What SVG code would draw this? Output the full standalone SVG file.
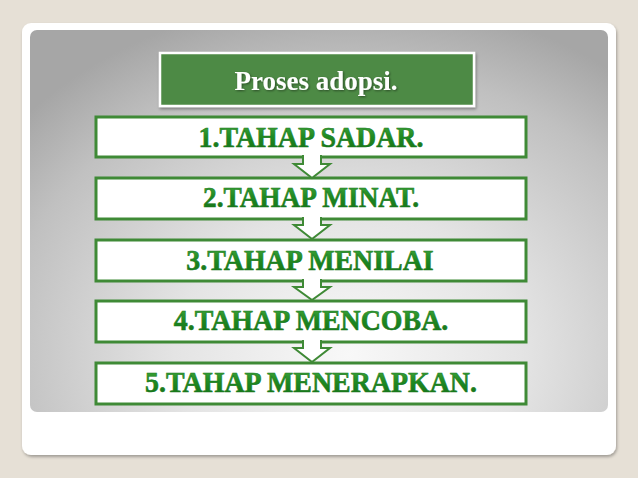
<svg xmlns="http://www.w3.org/2000/svg" width="638" height="478" viewBox="0 0 638 478">
<defs>
<radialGradient id="panelG" cx="0.55" cy="0.85" r="0.75" gradientTransform="translate(0.55 0.85) scale(1 1.25) translate(-0.55 -0.85)">
<stop offset="0" stop-color="#f8f8f8"/>
<stop offset="0.4" stop-color="#e4e4e4"/>
<stop offset="0.8" stop-color="#c0c0c0"/>
<stop offset="1" stop-color="#a6a6a6"/>
</radialGradient>
<linearGradient id="txtG" x1="0" y1="0" x2="0" y2="1">
<stop offset="0" stop-color="#4cae44"/>
<stop offset="0.5" stop-color="#1f8a22"/>
<stop offset="1" stop-color="#136d16"/>
</linearGradient>
<filter id="cardSh" x="-5%" y="-5%" width="110%" height="110%">
<feDropShadow dx="1" dy="2" stdDeviation="1.5" flood-color="#000" flood-opacity="0.3"/>
</filter>
<filter id="boxSh" x="-5%" y="-10%" width="110%" height="130%">
<feDropShadow dx="1" dy="2" stdDeviation="1.5" flood-color="#000" flood-opacity="0.35"/>
</filter>
<filter id="tSh" x="-5%" y="-20%" width="110%" height="150%">
<feDropShadow dx="1" dy="1" stdDeviation="0.8" flood-color="#000" flood-opacity="0.45"/>
</filter>
</defs>
<style>
.box{fill:#ffffff;stroke:#3f8a36;stroke-width:3}
.arr{fill:#ffffff;stroke:#3f8a36;stroke-width:2;stroke-linejoin:miter}
.lbl{font-family:'Liberation Serif','DejaVu Serif',serif;font-weight:bold;font-size:30px;fill:url(#txtG);stroke:#1a7a1d;stroke-width:0.6;text-anchor:middle}
.ttl{font-family:'Liberation Serif','DejaVu Serif',serif;font-weight:bold;font-size:27px;fill:#ffffff;text-anchor:middle}
</style>
<rect x="0" y="0" width="638" height="478" fill="#e6e0d6"/>
<rect x="22" y="23" width="594" height="432" rx="9" fill="#ffffff" filter="url(#cardSh)"/>
<rect x="30" y="30" width="578" height="382" rx="7" fill="url(#panelG)"/>

<g id="title">
<rect x="160" y="53" width="314" height="53" fill="#4e8a44" stroke="#ffffff" stroke-width="2.5" filter="url(#boxSh)"/>
<text class="ttl" x="316" y="90" filter="url(#tSh)">Proses adopsi.</text>
</g>

<g id="step1">
<rect class="box" x="96" y="117" width="430" height="40"/>
<text class="lbl" transform="translate(311 147) scale(0.93 1)">1.TAHAP SADAR.</text>
</g>
<g id="step2">
<rect class="box" x="96" y="178" width="430" height="41"/>
<text class="lbl" transform="translate(311 207) scale(0.91 1)">2.TAHAP MINAT.</text>
</g>
<g id="step3">
<rect class="box" x="96" y="240" width="430" height="41"/>
<text class="lbl" transform="translate(310 270) scale(0.93 1)">3.TAHAP MENILAI</text>
</g>
<g id="step4">
<rect class="box" x="96" y="301" width="430" height="41"/>
<text class="lbl" transform="translate(311 330) scale(0.93 1)">4.TAHAP MENCOBA.</text>
</g>
<g id="step5">
<rect class="box" x="96" y="363" width="430" height="41"/>
<text class="lbl" transform="translate(311 392) scale(0.93 1)">5.TAHAP MENERAPKAN.</text>
</g>

<g id="connectors">
<path class="arr" d="M303,155 V164 H294 L312,178 L330,164 H321 V155"/>
<path class="arr" d="M303,217 V225 H294 L312,239 L330,225 H321 V217"/>
<path class="arr" d="M303,279 V287 H294 L312,300 L330,287 H321 V279"/>
<path class="arr" d="M303,340 V348 H294 L312,362 L330,348 H321 V340"/>
</g>
</svg>
